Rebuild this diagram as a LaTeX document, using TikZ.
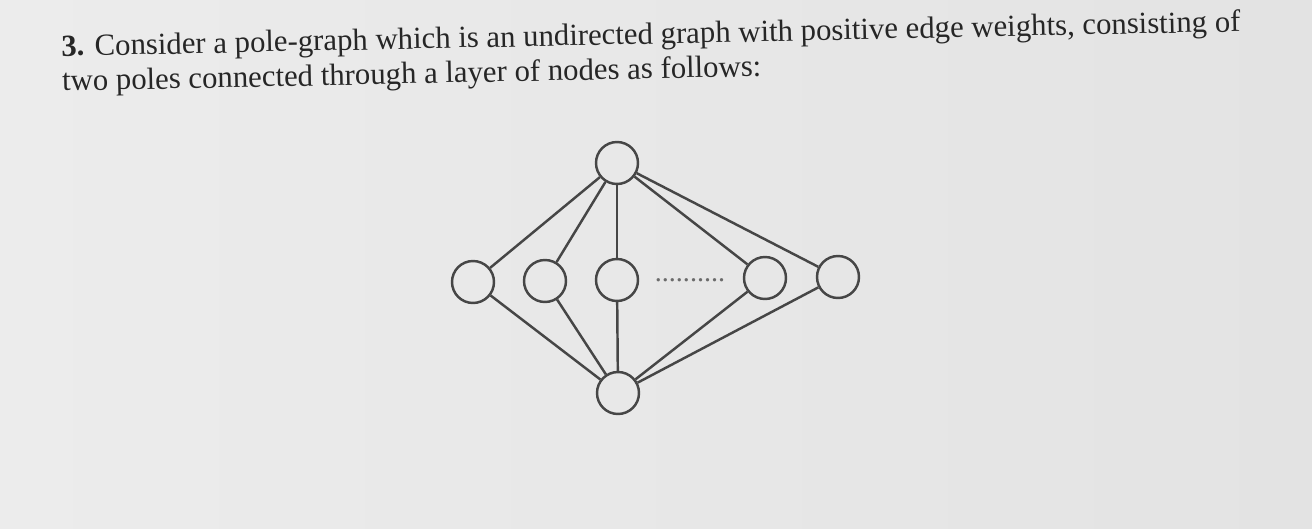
\documentclass[tikz,border=0pt]{standalone}
\usepackage{fontspec}
\setmainfont{Liberation Serif}
\usepackage{tikz}
\usetikzlibrary{arrows.meta,shapes,arrows}

\definecolor{paperL}{HTML}{ECECEC}
\definecolor{paperR}{HTML}{E3E3E3}
\definecolor{ink}{HTML}{262626}
\definecolor{wire}{HTML}{464646}

\begin{document}
\begin{tikzpicture}[x=0.02cm,y=-0.02cm]
      \shade[left color=paperL,right color=paperR] (0,0) rectangle (1312,528);
      \useasboundingbox (0,0) rectangle (1312,528);
      \node[anchor=base west,align=left,text=ink,inner sep=0pt,rotate=1.2,
            font=\fontsize{17.5}{19.8}\selectfont] (Q) at (62,91)
        {\textbf{3.} Consider a pole-graph which is an undirected graph with positive edge weights, consisting of\\
         two poles connected through a layer of nodes as follows:};
      \begin{scope}[every node/.style={circle,draw=wire,line width=1.4pt,minimum size=0.84cm,inner sep=0pt}]
        \node (S) at (617,163) {};
        \node (A) at (473,282) {};
        \node (B) at (545,281) {};
        \node (C) at (617,280) {};
        \node (D) at (765,278) {};
        \node (E) at (838,277) {};
        \node (T) at (618,393) {};
      \end{scope}
      \node[anchor=base,inner sep=0pt,text=wire!80,font=\fontsize{16}{16}\selectfont] (dots) at (690,281) {..........};
      \begin{scope}[every edge/.style={draw=wire,line width=1.4pt}]
        \path (S) edge (A);      \path (T) edge (A);
        \path (S) edge (B);      \path (T) edge (B);
        \path (S) edge (C);      \path (T) edge (C);
        \path (S) edge (D);      \path (T) edge (D);
        \path (S) edge (E);      \path (T) edge (E);
      \end{scope}
    \end{tikzpicture}
\end{document}
